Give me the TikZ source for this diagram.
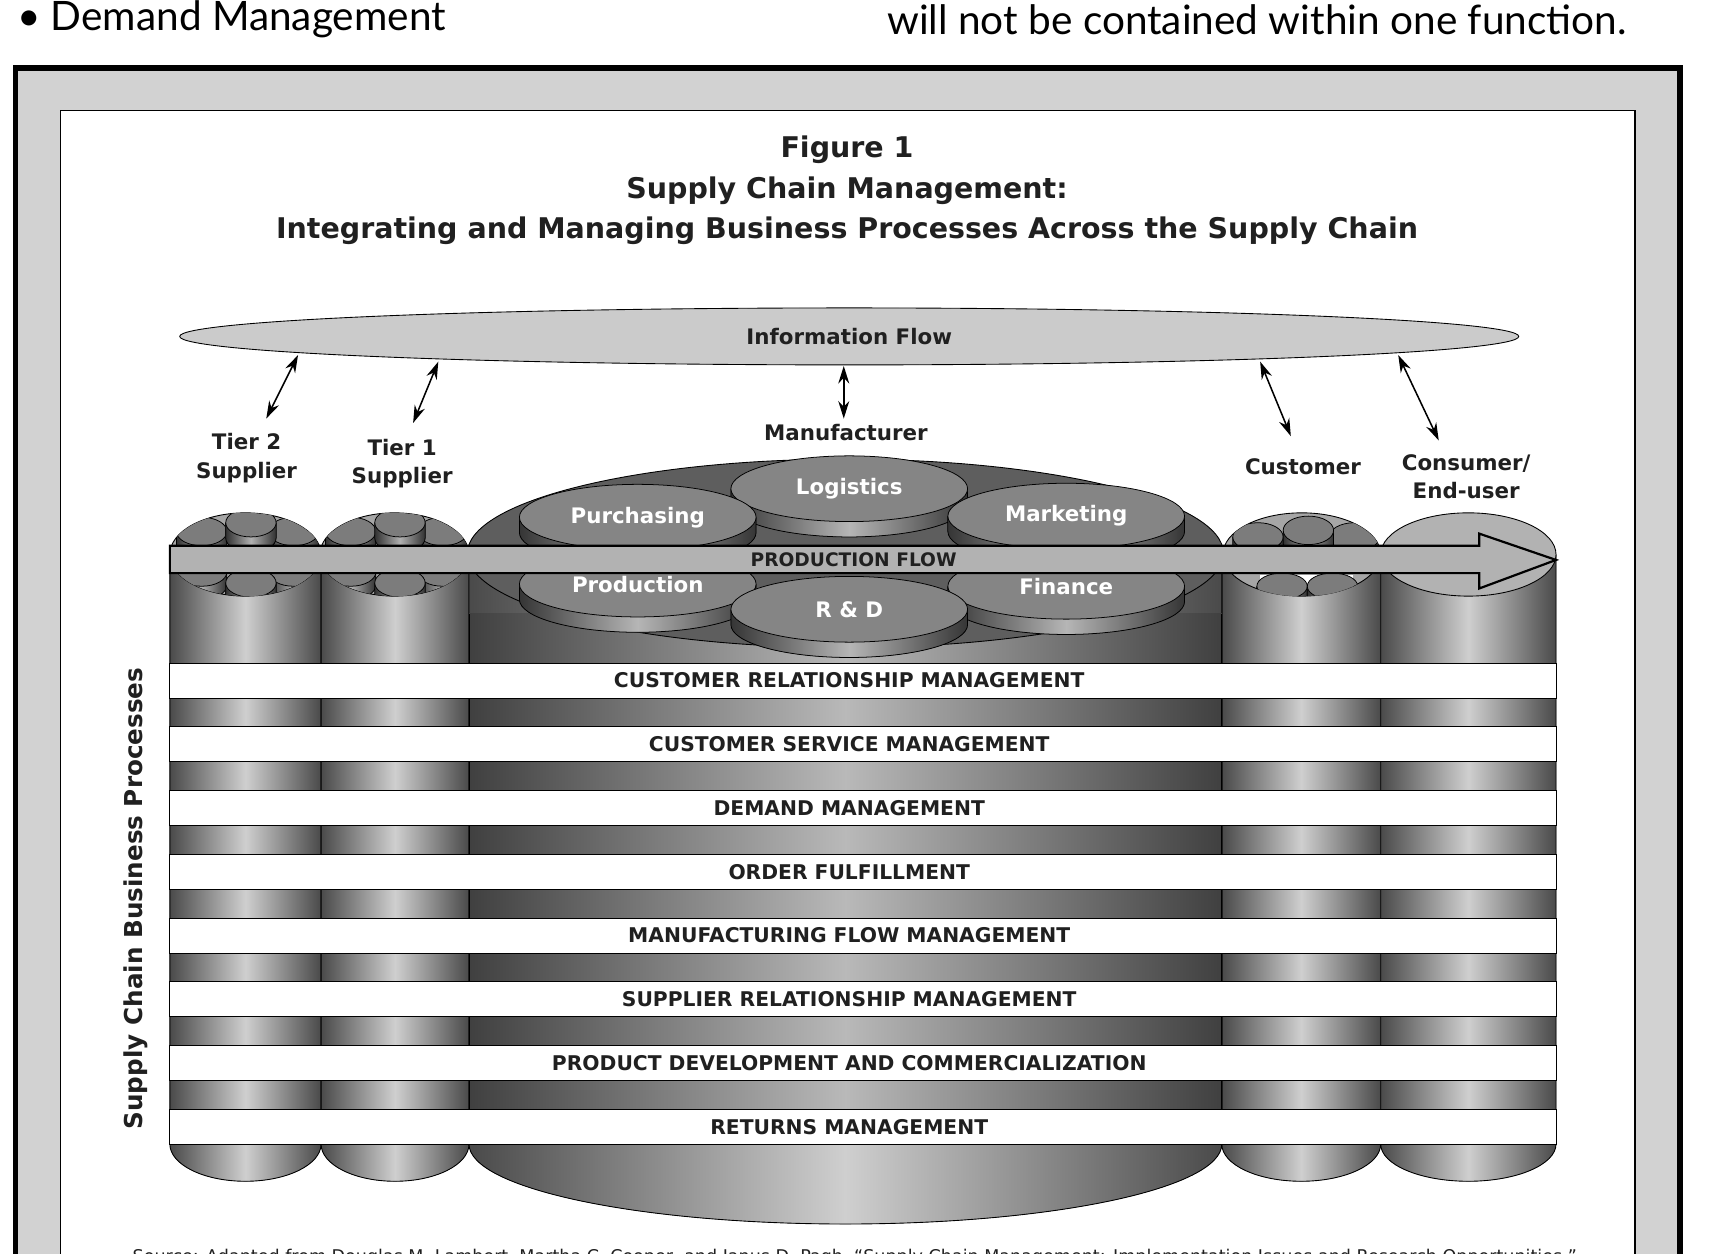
\documentclass[tikz,border=0pt]{standalone}
\usepackage{fontspec}
\setmainfont{DejaVu Sans}
\newfontfamily\bodyf{Lato}
\usetikzlibrary{arrows.meta}
\definecolor{framegray}{HTML}{D2D2D2}
\definecolor{infogray}{HTML}{CBCBCB}
\definecolor{diskgray}{HTML}{7C7C7C}
\definecolor{diskgrayb}{HTML}{858585}
\definecolor{mfgtop}{HTML}{5E5E5E}
\definecolor{flowgray}{HTML}{B2B2B2}
\definecolor{txt}{HTML}{202020}
\definecolor{colmid}{HTML}{CFCFCF}
\definecolor{coledge}{HTML}{4A4A4A}
\tikzset{
  band/.style={draw=black,line width=0.8pt,fill=white},
  bandtxt/.style={font=\bfseries\fontsize{18.5}{20}\selectfont,text=txt},
  ttl/.style={font=\bfseries\fontsize{26}{37}\selectfont,text=txt,align=center},
  lbl/.style={font=\bfseries\fontsize{19.5}{26}\selectfont,text=txt,align=center},
  disktxt/.style={font=\bfseries\fontsize{19.5}{22}\selectfont,text=white},
  col/.style={left color=coledge,right color=coledge,middle color=colmid},
  io/.style={{Stealth[length=16pt,width=10pt]}-{Stealth[length=16pt,width=10pt]},line width=1.4pt},
}
% small cylinder: center x,y ; rx ; ry ; depth ; color
\newcommand{\mycyl}[6]{%
  \fill[left color=#6!40!black,right color=#6!40!black,middle color=#6!60!white]
    (#1-#3,#2) -- (#1-#3,#2+#5) arc[start angle=180,end angle=0,x radius=#3,y radius=#4] -- (#1+#3,#2) -- cycle;
  \draw[line width=0.7pt] (#1-#3,#2) -- (#1-#3,#2+#5) arc[start angle=180,end angle=0,x radius=#3,y radius=#4] -- (#1+#3,#2);
  \draw[line width=0.7pt,fill=#6] (#1,#2) ellipse[x radius=#3,y radius=#4];}
\begin{document}
\begin{tikzpicture}[x=1pt,y=-1pt]
\useasboundingbox (0,0) rectangle (1566,1143.5);
\fill[white] (0,0) rectangle (1566,1143.5);
% top text
\node[anchor=west,font=\bodyf\fontsize{37}{40}\selectfont] (t1) at (12,18) {\textbullet\ Demand Management};
\node[anchor=east,font=\bodyf\fontsize{37}{40}\selectfont] (t2) at (1488,18) {will not be contained within one function.};
% frame
\begin{scope}
\clip (0,0) rectangle (1566,1143.5);
\draw[line width=5pt,fill=framegray] (14,62) rectangle (1533,1200);
\draw[line width=1.2pt,fill=white] (55,101) rectangle (1492,1200);
\node[anchor=north,font=\fontsize{16}{18}\selectfont,text=txt] (src) at (780,1136) {Source: Adapted from Douglas M. Lambert, Martha C. Cooper, and Janus D. Pagh, “Supply Chain Management: Implementation Issues and Research Opportunities,”};
\end{scope}
% title
\node[ttl] (title) at (773,174) {Figure 1\\Supply Chain Management:\\Integrating and Managing Business Processes Across the Supply Chain};
% info flow
\draw[line width=0.8pt,fill=infogray] (775,307) ellipse[x radius=611,y radius=26];
\node[lbl] (info) at (775,307) {Information Flow};
% labels
\node[lbl] (t2s) at (225,418) {Tier 2\\Supplier};
\node[lbl] (t1s) at (367,423) {Tier 1\\Supplier};
\node[lbl] (man) at (772,395) {Manufacturer};
\node[lbl] (cus) at (1189,426) {Customer};
\node[lbl] (con) at (1338,435) {Consumer/\\End-user};
\coordinate (i1) at (272,324); \coordinate (e1) at (243,382);
\coordinate (i2) at (400,330); \coordinate (e2) at (377,386);
\coordinate (i3) at (770,334); \coordinate (e3) at (770,382);
\coordinate (i4) at (1150,330); \coordinate (e4) at (1178,398);
\coordinate (i5) at (1276,324); \coordinate (e5) at (1313,402);
\foreach \k in {1,...,5} \draw[io] (i\k) -- (e\k);
% column bodies
\foreach \a/\b/\ry in {155/293/34, 293/428/34, 1115/1260/34, 1260/1420/34, 428/1115/73}{
  \pgfmathsetmacro\rx{(\b-\a)/2}
  \fill[col] (\a,506) -- (\a,1044) arc[start angle=180,end angle=0,x radius=\rx,y radius=\ry] -- (\b,506) -- cycle;
  \draw[line width=0.8pt] (\a,506) -- (\a,1044) arc[start angle=180,end angle=0,x radius=\rx,y radius=\ry] -- (\b,506);
}
\fill[left color=black!75,right color=black!75,middle color=gray!55] (428,560) rectangle (1115,1044);
\draw[line width=0.8pt] (428,560) -- (428,1044) (1115,560) -- (1115,1044);
% bands
\foreach \t [count=\i from 0] in {CUSTOMER RELATIONSHIP MANAGEMENT,CUSTOMER SERVICE MANAGEMENT,DEMAND MANAGEMENT,ORDER FULFILLMENT,MANUFACTURING FLOW MANAGEMENT,SUPPLIER RELATIONSHIP MANAGEMENT,PRODUCT DEVELOPMENT AND COMMERCIALIZATION,RETURNS MANAGEMENT}{
  \draw[band] (155,605+58.2*\i) rectangle (1420,637+58.2*\i);
  \node[bandtxt] (b\i) at (775,621+58.2*\i) {\t};
}
% tier tops
\foreach \cx/\rx in {224/69, 360/68}{
  \draw[line width=0.8pt,fill=gray!70] (\cx,506) ellipse[x radius=\rx,y radius=38];
  \begin{scope}
  \clip (\cx,506) ellipse[x radius=\rx,y radius=38];
  \mycyl{\cx-40}{485}{23}{13}{14}{diskgray}
  \mycyl{\cx+44}{485}{23}{13}{14}{diskgray}
  \mycyl{\cx+5}{477}{23}{13}{14}{diskgray}
  \mycyl{\cx-40}{522}{23}{13}{12}{diskgray}
  \mycyl{\cx+44}{522}{23}{13}{12}{diskgray}
  \mycyl{\cx+5}{532}{23}{13}{12}{diskgray}
  \end{scope}
}
% customer top
\draw[line width=0.8pt,fill=gray!70] (1188,506) ellipse[x radius=72,y radius=38];
\begin{scope}
\clip (1188,506) ellipse[x radius=72,y radius=38];
\mycyl{1148}{490}{23}{13}{12}{diskgray}
\mycyl{1236}{490}{23}{13}{12}{diskgray}
\mycyl{1194}{484}{23}{13}{12}{diskgray}
\fill[white] (1150,525) rectangle (1235,545);
\mycyl{1170}{535}{23}{12}{14}{diskgray}
\mycyl{1216}{535}{23}{12}{14}{diskgray}
\end{scope}
% consumer top
\draw[line width=0.8pt,fill=gray!60] (1340,506) ellipse[x radius=80,y radius=38];
% manufacturer top
\draw[line width=0.8pt,fill=mfgtop] (771.5,505) ellipse[x radius=345,y radius=86];
\foreach \x/\y/\n/\t in {775/446/log/Logistics, 582/472/pur/Purchasing, 973/471/mkt/Marketing, 582/533/pro/Production, 973/535/fin/Finance, 775/556/rd/R \& D}{
  \mycyl{\x}{\y}{108}{30}{14}{diskgrayb}
  \node[disktxt] (\n) at (\x,\y) {\t};
}
% production flow arrow
\draw[line width=2pt,fill=flowgray,line join=miter] (155,498) -- (1350,498) -- (1350,487) -- (1420,511) -- (1350,537) -- (1350,523) -- (155,523) -- cycle;
\node[font=\bfseries\fontsize{17}{18}\selectfont,text=txt] (pf) at (779,510.5) {PRODUCTION FLOW};
% side label
\node[rotate=90,font=\bfseries\fontsize{22.5}{24}\selectfont,text=txt] (side) at (124,820) {Supply Chain Business Processes};
\end{tikzpicture}
\end{document}
